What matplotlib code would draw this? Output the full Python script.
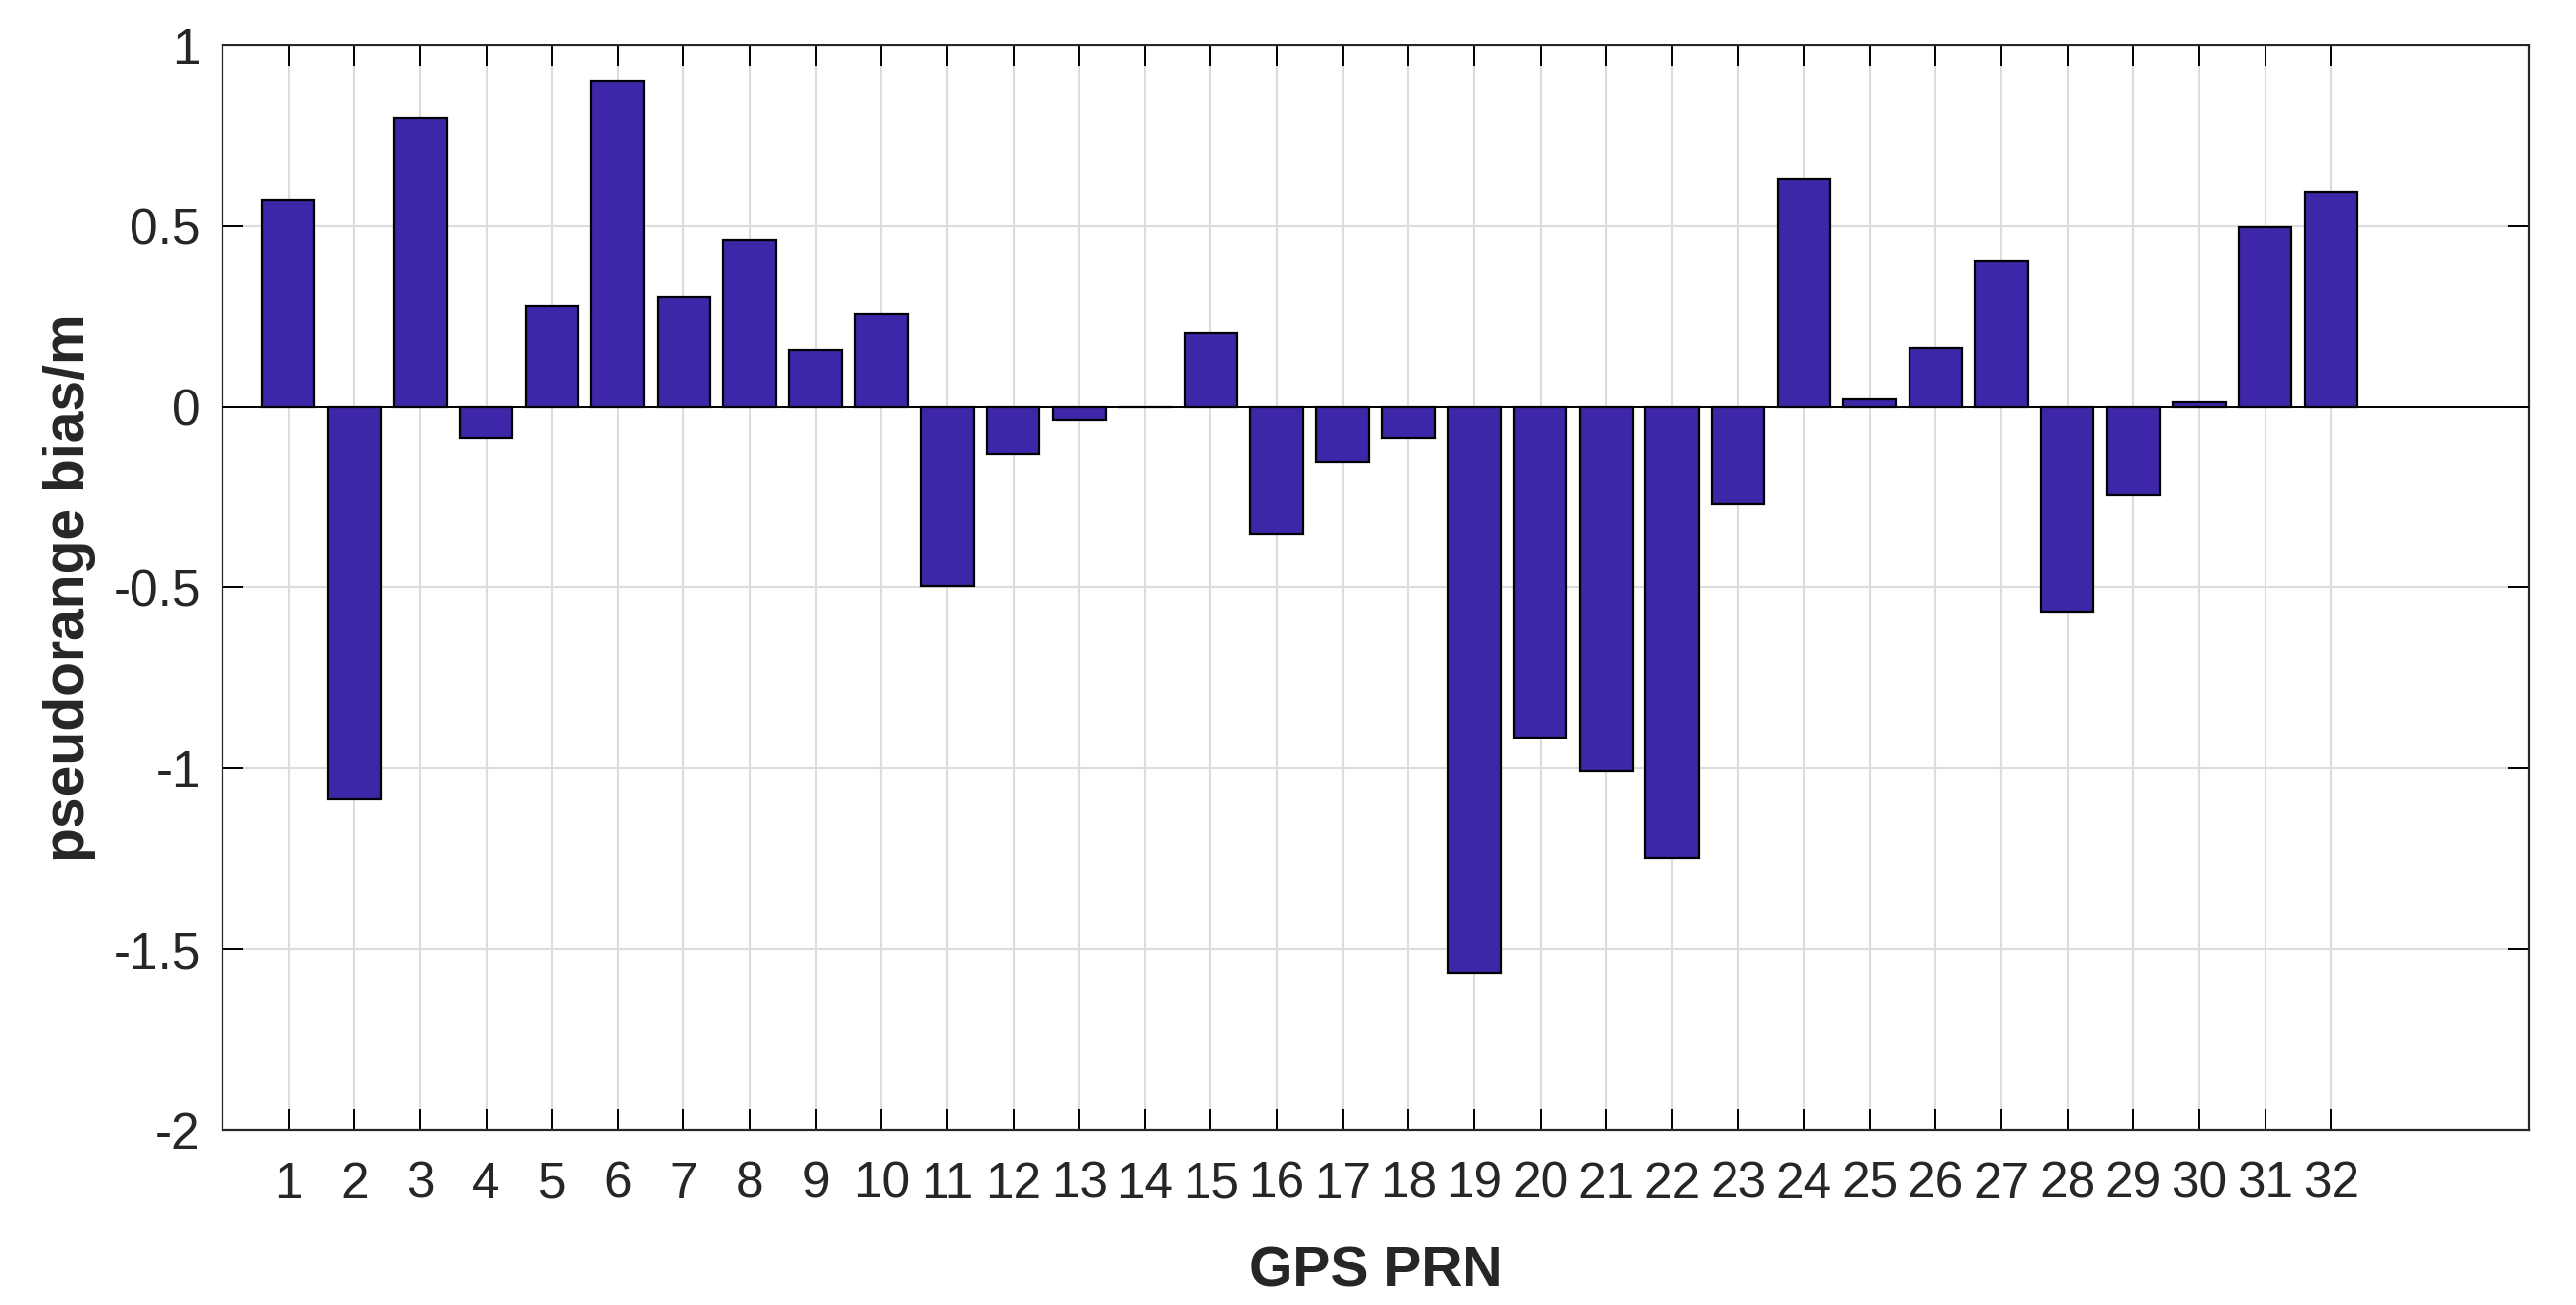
import matplotlib
matplotlib.use("Agg")
import matplotlib.pyplot as plt
import numpy as np

plt.rcParams['font.family'] = ['Liberation Sans', 'DejaVu Sans']
plt.rcParams['axes.unicode_minus'] = False

# GPS PRN numbers and pseudorange bias (m)
prn = list(range(1, 33))
bias = [0.574, -1.084, 0.800, -0.085, 0.278, 0.901, 0.305, 0.461,
        0.157, 0.256, -0.496, -0.129, -0.037, 0.0, 0.204, -0.350,
        -0.151, -0.087, -1.566, -0.914, -1.007, -1.248, -0.270, 0.632,
        0.021, 0.163, 0.405, -0.568, -0.245, 0.014, 0.496, 0.596]
yticks = [-2, -1.5, -1, -0.5, 0, 0.5, 1]
ytick_labels = ['-2', '-1.5', '-1', '-0.5', '0', '0.5', '1']

fig = plt.figure(figsize=(26.05, 13.2), dpi=100)
ax = fig.add_axes([0.0864, 0.1341, 0.8952, 0.8311])

ax.bar(prn, bias, width=0.8, color='#3E26A8', edgecolor='black',
       linewidth=1.6, zorder=3)
ax.axhline(0, color='black', linewidth=1.4, zorder=4)

ax.set_xlim(0, 35)
ax.set_ylim(-2, 1)
ax.set_xticks(prn)
ax.set_xticklabels([str(p) for p in prn])
ax.set_yticks(yticks)
ax.set_yticklabels(ytick_labels)

ax.grid(True, color='#dcdcdc', linewidth=1.5, zorder=0)
ax.set_axisbelow(True)

ax.tick_params(axis='both', direction='in', length=15, width=1.4,
               labelsize=37, labelcolor='#262626', top=True, right=True)
ax.tick_params(axis='x', pad=22)
ax.tick_params(axis='y', pad=16)
for s in ax.spines.values():
    s.set_linewidth(1.6)
    s.set_color('#262626')

ax.set_xlabel('GPS PRN', fontsize=41, fontweight='bold', color='#262626',
              va='center')
ax.set_ylabel('pseudorange bias/m', fontsize=41, fontweight='bold',
              color='#262626', va='center')
ax.xaxis.set_label_coords(0.5, -0.131)
ax.yaxis.set_label_coords(-0.0665, 0.5)

fig.savefig('out.png', dpi=100, facecolor='white')
